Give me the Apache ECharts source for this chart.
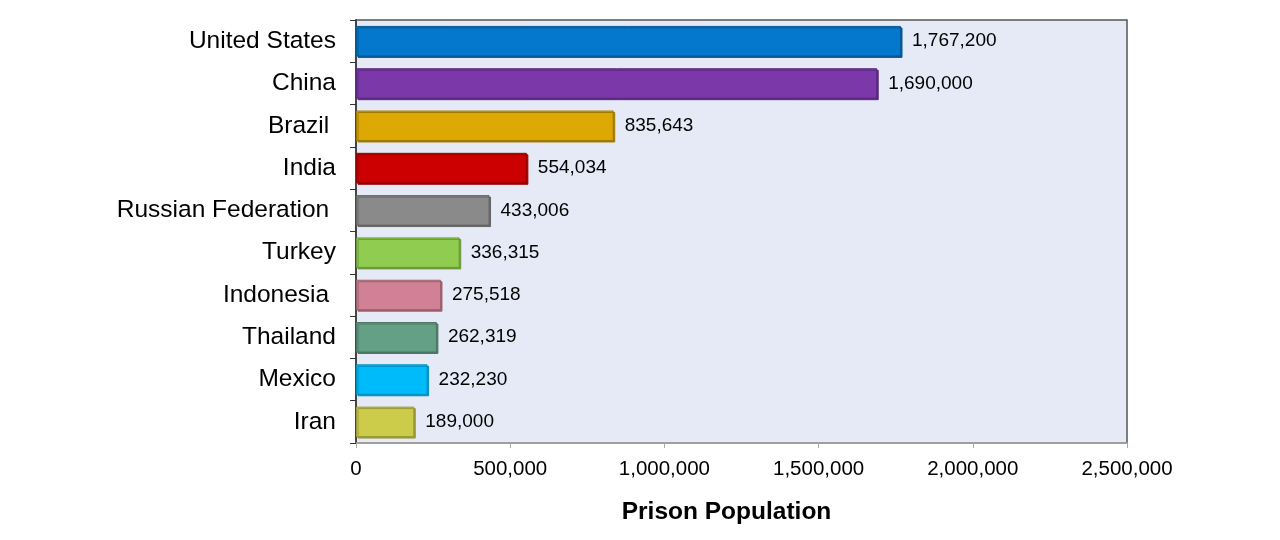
<!DOCTYPE html>
<html><head><meta charset="utf-8">
<script src="https://cdn.jsdelivr.net/npm/echarts@6/dist/echarts.min.js"></script>
<style>html,body{margin:0;padding:0;background:#fff}#c{width:1280px;height:540px}</style>
</head><body><div id="c"></div>
<script>
const countries = ["United States","China","Brazil ","India","Russian Federation ","Turkey","Indonesia ","Thailand","Mexico","Iran"];
const population = [1767200,1690000,835643,554034,433006,336315,275518,262319,232230,189000];
const barColors = ["#0478CC","#7B38A8","#DDA803","#CC0001","#8A8A8A","#8FCC4F","#D08196","#63A085","#00BBFA","#CCCC4A"];
const borderColors = ["#035A99","#5A2880","#A07A02","#990000","#666666","#6A9A3A","#9C6070","#4A7864","#0090C0","#999937"];
const xTicks = [0,500000,1000000,1500000,2000000,2500000];
const fmt = v => v.toLocaleString('en-US');
const chart = echarts.init(document.getElementById('c'));
chart.setOption({
  animation:false,
  grid:{left:356,top:20,right:153,bottom:97,show:true,backgroundColor:'#E6EAF6',borderColor:'#555',borderWidth:1.5,containLabel:false},
  xAxis:{type:'value',min:xTicks[0],max:xTicks[xTicks.length-1],interval:xTicks[1]-xTicks[0],
    name:'Prison Population',nameLocation:'middle',nameGap:57,
    nameTextStyle:{fontFamily:'Liberation Sans, Arial',fontSize:24.5,fontWeight:'bold',color:'#000',padding:[0,30,0,0]},
    axisLine:{show:true,lineStyle:{color:'#AAAAAA',width:1.5}},
    axisTick:{show:true,length:5,lineStyle:{color:'#AAAAAA'}},
    splitLine:{show:false},
    axisLabel:{fontFamily:'Liberation Sans, Arial',fontSize:20.5,color:'#000',margin:16,formatter:fmt}},
  yAxis:{type:'category',data:countries,inverse:true,
    axisLine:{show:true,lineStyle:{color:'#333',width:1.5}},
    axisTick:{show:true,length:6,lineStyle:{color:'#333'}},
    axisLabel:{fontFamily:'Liberation Sans, Arial',fontSize:24.5,color:'#000',margin:20}},
  series:[{type:'bar',barCategoryGap:'28%',
    data:population.map((v,i)=>({value:v,itemStyle:{color:barColors[i],borderColor:borderColors[i],borderWidth:1,shadowColor:borderColors[i],shadowOffsetX:1.5,shadowOffsetY:1.5}})),
    label:{show:true,position:'right',distance:11,fontFamily:'Liberation Sans, Arial',fontSize:19,color:'#000',formatter:p=>fmt(p.value)}}]
});
</script></body></html>
